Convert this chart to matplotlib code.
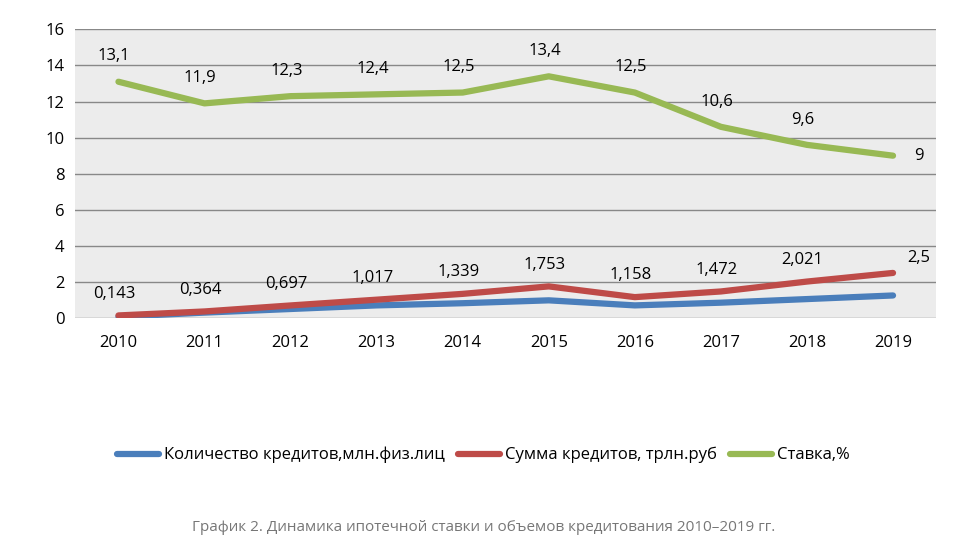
import matplotlib.pyplot as plt

years = ["2010","2011","2012","2013","2014","2015","2016","2017","2018","2019"]
count = [0.07,0.3,0.5,0.7,0.82,0.98,0.7,0.85,1.05,1.25]
summa = [0.143,0.364,0.697,1.017,1.339,1.753,1.158,1.472,2.021,2.5]
rate = [13.1,11.9,12.3,12.4,12.5,13.4,12.5,10.6,9.6,9.0]
summa_lbl = ["0,143","0,364","0,697","1,017","1,339","1,753","1,158","1,472","2,021","2,5"]
rate_lbl = ["13,1","11,9","12,3","12,4","12,5","13,4","12,5","10,6","9,6","9"]

plt.rcParams["font.family"] = "Open Sans"
fig = plt.figure(figsize=(9.67,5.55), dpi=100)
ax = fig.add_axes([0.078, 0.427, 0.89, 0.52])
ax.set_facecolor("#ececec")
x = range(len(years))
ax.plot(x, count, color="#4a7ebb", lw=4.5, label="Количество кредитов,млн.физ.лиц", solid_capstyle="round")
ax.plot(x, summa, color="#be4b48", lw=4.5, label="Сумма кредитов, трлн.руб", solid_capstyle="round")
ax.plot(x, rate, color="#98b954", lw=4.5, label="Ставка,%", solid_capstyle="round")
for i in x:
    dx = 0.3 if i == 9 else -0.05
    dy = 0 if i == 9 else 1.4
    ax.text(i+dx, rate[i]+dy if i != 0 else rate[i]+1.4, rate_lbl[i], ha="center", va="center", fontsize=12)
    dy2 = 1.0 if i < 8 else 0.8
    ax.text(i+(0.3 if i == 9 else -0.05), summa[i]+(0.8 if i==9 else 1.2), summa_lbl[i], ha="center", va="center", fontsize=12)
ax.set_xlim(-0.5, 9.5)
ax.set_ylim(0, 16)
ax.set_yticks(range(0, 17, 2))
ax.set_xticks(list(x))
ax.set_xticklabels(years)
ax.grid(axis="y", color="#888888", lw=1)
ax.set_axisbelow(True)
for s in ax.spines.values():
    s.set_visible(False)
ax.tick_params(length=0, labelsize=12, pad=12)
ax.tick_params(axis="y", pad=8)
fig.legend(loc="center", bbox_to_anchor=(0.5, 0.18), ncol=3, frameon=False, fontsize=12,
           handlelength=2.5, columnspacing=0.8, handletextpad=0.3)
fig.text(0.5, 0.05, "График 2. Динамика ипотечной ставки и объемов кредитования 2010–2019 гг.",
         ha="center", va="center", fontsize=11, color="#777777")
fig.savefig("out.png", dpi=100)
